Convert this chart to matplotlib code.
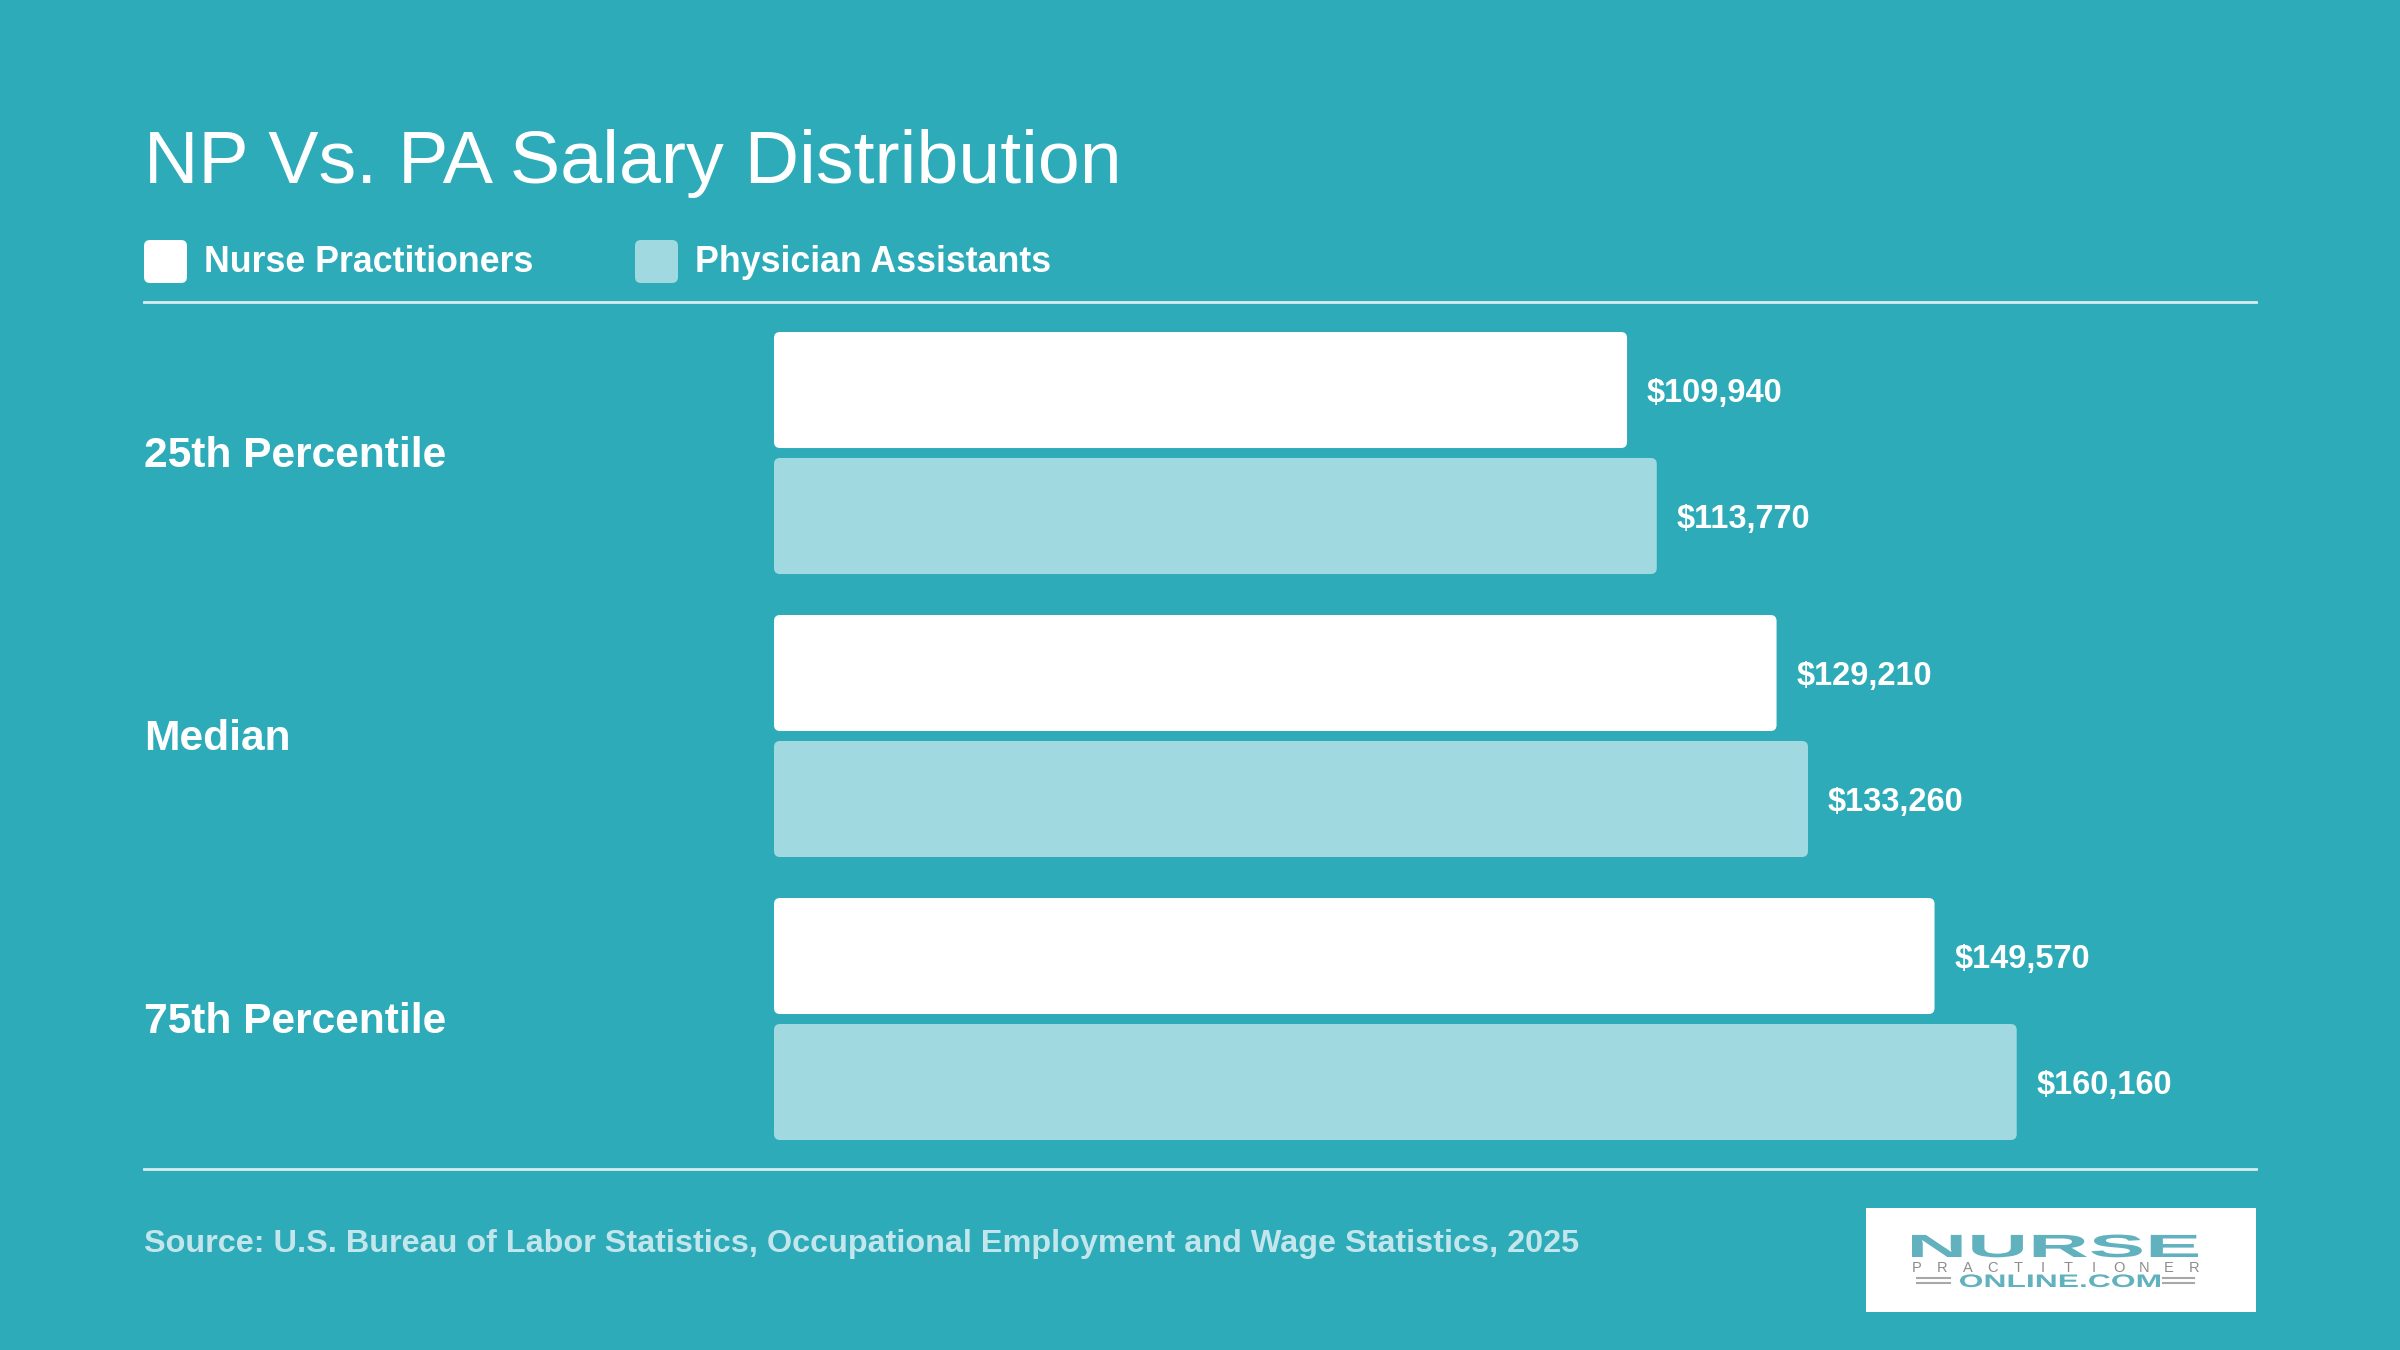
import numpy as np
import matplotlib
matplotlib.use('Agg')
from matplotlib import pyplot as plt
from matplotlib.patches import FancyBboxPatch, PathPatch
from matplotlib.lines import Line2D
from matplotlib.textpath import TextPath
from matplotlib.font_manager import FontProperties
from matplotlib import transforms

plt.rcParams['font.family'] = ['Liberation Sans', 'DejaVu Sans']

categories = ['25th Percentile', 'Median', '75th Percentile']
np_salary = [109940, 129210, 149570]
pa_salary = [113770, 133260, 160160]
series_names = ['Nurse Practitioners', 'Physician Assistants']

bg = '#2eabb9'
np_color = '#ffffff'
pa_color = '#a1d9e1'
line_color = '#d6eef2'
W, H = 2400, 1350

fig = plt.figure(figsize=(24, 13.5), dpi=100, facecolor=bg)


def fx(px):
    return px / W


def fy(py):
    return 1 - py / H


# plot area: x 774..2256 px, y 302..1169 px
ax = fig.add_axes([fx(774), fy(1169), fx(2256) - fx(774), fy(302) - fy(1169)])
ax.set_facecolor(bg)
ax.set_xlim(0, 191000)
ax.set_ylim(2.530, -0.5336)
ax.axis('off')

pos = np.arange(len(categories))
off = 0.2226
bh = 0.41
bars_np = ax.barh(pos - off, np_salary, height=bh, color=np_color)
bars_pa = ax.barh(pos + off, pa_salary, height=bh, color=pa_color)

# swap the plain rectangles for rounded ones
rx = 6 / (1482 / 191000)
ry = 6 / 283
for bars in (bars_np, bars_pa):
    for r in bars:
        r.set_visible(False)
        p = FancyBboxPatch((r.get_x(), r.get_y()), r.get_width(), r.get_height(),
                           boxstyle='round,pad=0,rounding_size=%f' % rx,
                           mutation_aspect=ry / rx,
                           facecolor=r.get_facecolor(), edgecolor='none')
        ax.add_patch(p)

gap = 20 * 191000 / 1482
nudge = 3 / 283
for bars, vals in ((bars_np, np_salary), (bars_pa, pa_salary)):
    for r, v in zip(bars, vals):
        ax.text(v + gap, r.get_y() + r.get_height() / 2 + nudge, '${:,}'.format(v),
                color='white', fontsize=23.5, fontweight='bold',
                va='center', ha='left')

# category labels at the left margin
tr = transforms.blended_transform_factory(fig.transFigure, ax.transData)
for i, c in enumerate(categories):
    ax.text(fx(144), pos[i] + nudge, c, transform=tr, color='white', fontsize=30.6,
            fontweight='bold', va='center', ha='left')

# title
fig.text(fx(144), fy(183), 'NP Vs. PA Salary Distribution', color='white',
         fontsize=54.3, va='baseline', ha='left')

# legend
for x0, col, name in ((144, np_color, series_names[0]), (635, pa_color, series_names[1])):
    sq = FancyBboxPatch((fx(x0), fy(283)), fx(43), fy(240) - fy(283),
                        boxstyle='round,pad=0,rounding_size=%f' % fx(6),
                        mutation_aspect=(6 / H) / fx(6),
                        transform=fig.transFigure, facecolor=col, edgecolor='none')
    fig.patches.append(sq)
    fig.text(fx(x0 + 60), fy(272), name, color='white', fontsize=25.75,
             fontweight='bold', va='baseline', ha='left')

# separator lines
for yy in (302, 1169):
    fig.add_artist(Line2D([fx(144), fx(2256)], [fy(yy), fy(yy)],
                          transform=fig.transFigure, color=line_color, lw=2))

# source
fig.text(fx(144), fy(1252),
         'Source: U.S. Bureau of Labor Statistics, Occupational Employment and Wage Statistics, 2025',
         color='#c3e6ec', fontsize=23.3, fontweight='bold', va='baseline', ha='left')

# logo box
fig.patches.append(plt.Rectangle((fx(1866), fy(1312)), fx(390), fy(1208) - fy(1312),
                                 transform=fig.transFigure, facecolor='white',
                                 edgecolor='none'))
logo_teal = '#62b1be'
logo_gray = '#8c8c8c'


def stretched(text, x0, x1, ybase, cap, color, weight):
    prop = FontProperties(family='Liberation Sans', weight=weight)
    tp = TextPath((0, 0), text, size=1, prop=prop)
    ext = tp.get_extents()
    sx = (x1 - x0) / ext.width
    sy = cap / 0.716
    t = (transforms.Affine2D().translate(-ext.x0, 0).scale(sx / W, sy / H)
         .translate(fx(x0), fy(ybase)) + fig.transFigure)
    fig.patches.append(PathPatch(tp, transform=t, facecolor=color, edgecolor='none'))


stretched('NURSE', 1912, 2198, 1257, 23, logo_teal, 'heavy')
letters = 'PRACTITIONER'
xs = np.linspace(1917, 2194, len(letters))
for x, ch in zip(xs, letters):
    fig.text(fx(x), fy(1272), ch, color=logo_gray, fontsize=10.5, ha='center',
             va='baseline')
stretched('ONLINE.COM', 1960, 2160, 1287, 13, logo_teal, 'bold')
for a, b in ((1917, 1950), (2163, 2194)):
    for yy in (1278, 1283):
        fig.add_artist(Line2D([fx(a), fx(b)], [fy(yy), fy(yy)],
                              transform=fig.transFigure, color='#a8a8a8', lw=1.5))

plt.savefig('out.png', dpi=100, facecolor=bg)
